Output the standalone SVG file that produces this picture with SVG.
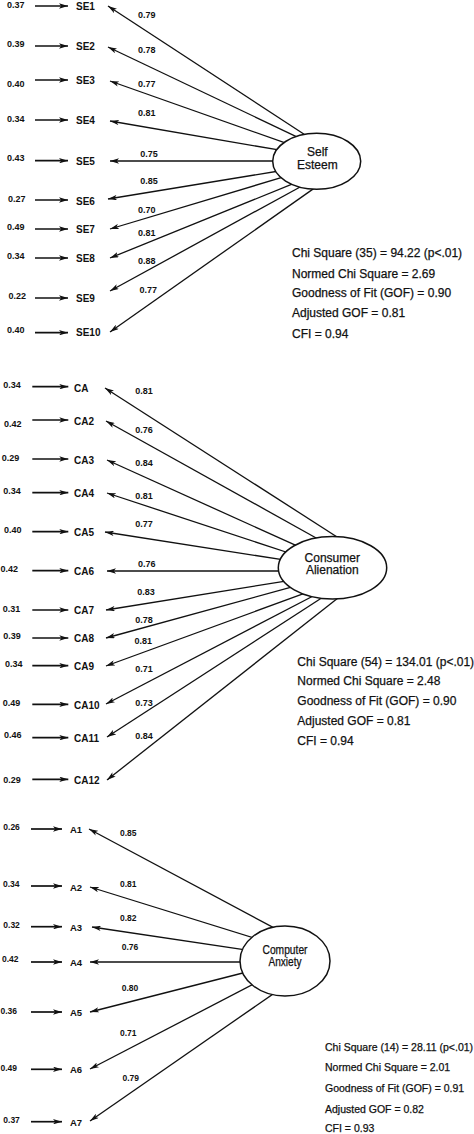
<svg xmlns="http://www.w3.org/2000/svg" width="474" height="1134" viewBox="0 0 474 1134">
<style>
text{font-family:"Liberation Sans",Arial,sans-serif;fill:#111}
.lab{font-size:10px;font-weight:bold}
.num{font-size:9px;font-weight:bold}
.ld{font-size:9px;font-weight:bold;text-anchor:middle}
.labs{font-size:9.5px;font-weight:bold}
.nums{font-size:8.5px;font-weight:bold}
.lds{font-size:8.5px;font-weight:bold;text-anchor:middle}
.lv{font-size:12px;text-anchor:middle;stroke:#111;stroke-width:0.25}
.fit{font-size:12px;stroke:#111;stroke-width:0.25}
.fits{font-size:10.5px;stroke:#111;stroke-width:0.25}
.conn line{stroke:#111;stroke-width:1.3;fill:none;marker-end:url(#ah)}
.conn line.e{stroke-width:1.7}
ellipse{fill:#fff;stroke:#111;stroke-width:1.5}
</style>
<defs>
<marker id="ah" viewBox="0 0 10 6" markerWidth="9" markerHeight="5.4" refX="10" refY="3" orient="auto" markerUnits="userSpaceOnUse"><path d="M0,0 L10,3 L0,6 L2.5,3 Z" fill="#111"/></marker>
</defs>

<g id="connectors" class="conn">
<!-- Self Esteem error arrows -->
<line class="e" x1="35" y1="6" x2="68" y2="6"/>
<line class="e" x1="35" y1="46" x2="68" y2="46"/>
<line class="e" x1="35" y1="80" x2="68" y2="80"/>
<line class="e" x1="35" y1="120" x2="68" y2="120"/>
<line class="e" x1="35" y1="160.7" x2="68" y2="160.7"/>
<line class="e" x1="35" y1="200" x2="68" y2="200"/>
<line class="e" x1="35" y1="229" x2="68" y2="229"/>
<line class="e" x1="35" y1="258" x2="68" y2="258"/>
<line class="e" x1="35" y1="298" x2="68" y2="298"/>
<line class="e" x1="35" y1="332.7" x2="68" y2="332.7"/>
<!-- Self Esteem loadings -->
<line x1="308.7" y1="137.3" x2="108" y2="6"/>
<line x1="300" y1="138.3" x2="108" y2="47"/>
<line x1="288.7" y1="144.2" x2="110" y2="81"/>
<line x1="280" y1="150.2" x2="110" y2="121"/>
<line x1="280" y1="161" x2="110" y2="161"/>
<line x1="282" y1="170.5" x2="108" y2="199"/>
<line x1="287" y1="175.9" x2="110" y2="229"/>
<line x1="297" y1="182.2" x2="110" y2="258"/>
<line x1="307" y1="183.2" x2="110" y2="291"/>
<line x1="320" y1="184.1" x2="110" y2="332"/>
<!-- Consumer Alienation error arrows -->
<line class="e" x1="32.3" y1="386.7" x2="68.3" y2="386.7"/>
<line class="e" x1="32.3" y1="420" x2="68.3" y2="420"/>
<line class="e" x1="32.3" y1="459" x2="68.3" y2="459"/>
<line class="e" x1="32.3" y1="492.7" x2="68.3" y2="492.7"/>
<line class="e" x1="32.3" y1="531.7" x2="68.3" y2="531.7"/>
<line class="e" x1="32.3" y1="570.7" x2="68.3" y2="570.7"/>
<line class="e" x1="32.3" y1="610" x2="68.3" y2="610"/>
<line class="e" x1="32.3" y1="638" x2="68.3" y2="638"/>
<line class="e" x1="32.3" y1="665.7" x2="68.3" y2="665.7"/>
<line class="e" x1="32.3" y1="704.3" x2="68.3" y2="704.3"/>
<line class="e" x1="32.3" y1="737.7" x2="68.3" y2="737.7"/>
<line class="e" x1="32.3" y1="779.3" x2="68.3" y2="779.3"/>
<!-- Consumer Alienation loadings -->
<line x1="343.7" y1="541.2" x2="105" y2="388"/>
<line x1="322" y1="541.2" x2="106" y2="421"/>
<line x1="302" y1="548.2" x2="107" y2="460"/>
<line x1="292" y1="554" x2="107" y2="493"/>
<line x1="287" y1="560.4" x2="105" y2="532"/>
<line x1="285.3" y1="571" x2="107" y2="571"/>
<line x1="288.7" y1="580.6" x2="106" y2="610"/>
<line x1="295" y1="586.1" x2="106" y2="638"/>
<line x1="307" y1="592.4" x2="106" y2="666"/>
<line x1="317" y1="594" x2="106" y2="704"/>
<line x1="327" y1="594.5" x2="107" y2="737"/>
<line x1="343.7" y1="593.5" x2="107" y2="780"/>
<!-- Computer Anxiety error arrows -->
<line class="e" x1="31" y1="829" x2="62" y2="829"/>
<line class="e" x1="31" y1="886" x2="62" y2="886"/>
<line class="e" x1="31" y1="926.7" x2="62" y2="926.7"/>
<line class="e" x1="31" y1="962" x2="62" y2="962"/>
<line class="e" x1="31" y1="1012" x2="62" y2="1012"/>
<line class="e" x1="31" y1="1069.3" x2="62" y2="1069.3"/>
<line class="e" x1="31" y1="1121.7" x2="62" y2="1121.7"/>
<!-- Computer Anxiety loadings -->
<line x1="278.7" y1="930.4" x2="89" y2="829"/>
<line x1="258.7" y1="939.5" x2="90" y2="887"/>
<line x1="248.7" y1="950.3" x2="92" y2="927"/>
<line x1="247" y1="962" x2="90" y2="962"/>
<line x1="248.7" y1="971.5" x2="90" y2="1012"/>
<line x1="258.7" y1="981.4" x2="90" y2="1069"/>
<line x1="278.7" y1="990.1" x2="90" y2="1121"/>
</g>

<g id="loadings-se">
<text class="ld" x="146.7" y="18.2">0.79</text>
<text class="ld" x="146.7" y="53.2">0.78</text>
<text class="ld" x="146.7" y="86.5">0.77</text>
<text class="ld" x="146.7" y="115.5">0.81</text>
<text class="ld" x="149" y="156.5">0.75</text>
<text class="ld" x="149" y="184.2">0.85</text>
<text class="ld" x="146.7" y="212.5">0.70</text>
<text class="ld" x="146.7" y="235.5">0.81</text>
<text class="ld" x="146.7" y="264.2">0.88</text>
<text class="ld" x="148.3" y="292.5">0.77</text>
</g>
<g id="loadings-ca">
<text class="ld" x="144" y="393.9">0.81</text>
<text class="ld" x="144" y="433.2">0.76</text>
<text class="ld" x="144" y="465.9">0.84</text>
<text class="ld" x="144" y="499.2">0.81</text>
<text class="ld" x="144" y="527.2">0.77</text>
<text class="ld" x="146.7" y="566.5">0.76</text>
<text class="ld" x="146" y="594.9">0.83</text>
<text class="ld" x="144" y="622.5">0.78</text>
<text class="ld" x="143.3" y="643.9">0.81</text>
<text class="ld" x="144" y="671.5">0.71</text>
<text class="ld" x="144" y="705.9">0.73</text>
<text class="ld" x="144" y="738.9">0.84</text>
</g>
<g id="loadings-a">
<text class="lds" x="128.3" y="836.3">0.85</text>
<text class="lds" x="128.3" y="887">0.81</text>
<text class="lds" x="128.3" y="921.3">0.82</text>
<text class="lds" x="130" y="949.7">0.76</text>
<text class="lds" x="130" y="990.7">0.80</text>
<text class="lds" x="128.3" y="1036.3">0.71</text>
<text class="lds" x="130.7" y="1081.3">0.79</text>
</g>

<!-- Self Esteem indicators -->
<g id="SE1"><text class="num" x="7" y="8.2">0.37</text><text class="lab" x="76" y="9.9">SE1</text></g>
<g id="SE2"><text class="num" x="7" y="46.5">0.39</text><text class="lab" x="76" y="50.3">SE2</text></g>
<g id="SE3"><text class="num" x="7" y="86.5">0.40</text><text class="lab" x="76" y="84.3">SE3</text></g>
<g id="SE4"><text class="num" x="7" y="121.5">0.34</text><text class="lab" x="76" y="124.3">SE4</text></g>
<g id="SE5"><text class="num" x="7" y="160.9">0.43</text><text class="lab" x="76" y="164.6">SE5</text></g>
<g id="SE6"><text class="num" x="8" y="202.2">0.27</text><text class="lab" x="76" y="204.6">SE6</text></g>
<g id="SE7"><text class="num" x="7" y="229.9">0.49</text><text class="lab" x="76" y="232.9">SE7</text></g>
<g id="SE8"><text class="num" x="7" y="259.2">0.34</text><text class="lab" x="76" y="261.9">SE8</text></g>
<g id="SE9"><text class="num" x="8.5" y="299.2">0.22</text><text class="lab" x="76" y="301.9">SE9</text></g>
<g id="SE10"><text class="num" x="7" y="333.2">0.40</text><text class="lab" x="76" y="336.3">SE10</text></g>

<g id="SelfEsteem">
<ellipse cx="316.7" cy="161.3" rx="44" ry="28"/>
<text class="lv" x="317.3" y="156">Self</text>
<text class="lv" x="317.3" y="168.6">Esteem</text>
</g>
<g id="fit-se">
<text class="fit" x="292" y="257">Chi Square (35) = 94.22 (p&lt;.01)</text>
<text class="fit" x="292" y="277.6">Normed Chi Square = 2.69</text>
<text class="fit" x="292" y="297">Goodness of Fit (GOF) = 0.90</text>
<text class="fit" x="292" y="317">Adjusted GOF = 0.81</text>
<text class="fit" x="292" y="337.6">CFI = 0.94</text>
</g>

<!-- Consumer Alienation indicators -->
<g id="CA1"><text class="num" x="3.3" y="388.2">0.34</text><text class="lab" x="74" y="391.9">CA</text></g>
<g id="CA2"><text class="num" x="4" y="426.5">0.42</text><text class="lab" x="74" y="424.6">CA2</text></g>
<g id="CA3"><text class="num" x="1.7" y="460.5">0.29</text><text class="lab" x="74" y="463.6">CA3</text></g>
<g id="CA4"><text class="num" x="3.3" y="493.9">0.34</text><text class="lab" x="74" y="496.9">CA4</text></g>
<g id="CA5"><text class="num" x="4" y="532.5">0.40</text><text class="lab" x="74" y="535.9">CA5</text></g>
<g id="CA6"><text class="num" x="0.5" y="571.5">0.42</text><text class="lab" x="74" y="574.6">CA6</text></g>
<g id="CA7"><text class="num" x="2.7" y="611.5">0.31</text><text class="lab" x="74" y="614.3">CA7</text></g>
<g id="CA8"><text class="num" x="3.3" y="639.2">0.39</text><text class="lab" x="74" y="641.9">CA8</text></g>
<g id="CA9"><text class="num" x="5" y="667.2">0.34</text><text class="lab" x="74" y="669.6">CA9</text></g>
<g id="CA10"><text class="num" x="2.7" y="705.9">0.49</text><text class="lab" x="74" y="708.6">CA10</text></g>
<g id="CA11"><text class="num" x="4" y="738.2">0.46</text><text class="lab" x="74" y="741.9">CA11</text></g>
<g id="CA12"><text class="num" x="3.3" y="783.2">0.29</text><text class="lab" x="74" y="783.6">CA12</text></g>

<g id="ConsumerAlienation">
<ellipse cx="332.5" cy="567.8" rx="54.2" ry="31.2"/>
<text class="lv" x="332.3" y="561.6">Consumer</text>
<text class="lv" x="332.3" y="574.3">Alienation</text>
</g>
<g id="fit-ca">
<text class="fit" x="297.3" y="666">Chi Square (54) = 134.01 (p&lt;.01)</text>
<text class="fit" x="297.3" y="684.5">Normed Chi Square = 2.48</text>
<text class="fit" x="297.3" y="704.5">Goodness of Fit (GOF) = 0.90</text>
<text class="fit" x="297.3" y="724.5">Adjusted GOF = 0.81</text>
<text class="fit" x="297.3" y="744.5">CFI = 0.94</text>
</g>

<!-- Computer Anxiety indicators -->
<g id="A1"><text class="nums" x="3.3" y="829.7">0.26</text><text class="labs" x="70" y="832.7">A1</text></g>
<g id="A2"><text class="nums" x="3" y="887.3">0.34</text><text class="labs" x="70" y="890.7">A2</text></g>
<g id="A3"><text class="nums" x="3.3" y="928">0.32</text><text class="labs" x="70" y="930.7">A3</text></g>
<g id="A4"><text class="nums" x="2" y="962">0.42</text><text class="labs" x="70" y="965.7">A4</text></g>
<g id="A5"><text class="nums" x="0.5" y="1014">0.36</text><text class="labs" x="70" y="1015.7">A5</text></g>
<g id="A6"><text class="nums" x="0.5" y="1071.3">0.49</text><text class="labs" x="70" y="1073.4">A6</text></g>
<g id="A7"><text class="nums" x="3.3" y="1123">0.37</text><text class="labs" x="70" y="1125.7">A7</text></g>

<g id="ComputerAnxiety">
<ellipse cx="285" cy="961" rx="45" ry="35"/>
<text class="lv" x="285" y="953.5" textLength="45" lengthAdjust="spacingAndGlyphs">Computer</text>
<text class="lv" x="285" y="966" textLength="33" lengthAdjust="spacingAndGlyphs">Anxiety</text>
</g>
<g id="fit-a">
<text class="fits" x="325" y="1051.3">Chi Square (14) = 28.11 (p&lt;.01)</text>
<text class="fits" x="325" y="1071.3">Normed Chi Square = 2.01</text>
<text class="fits" x="325" y="1092">Goodness of Fit (GOF) = 0.91</text>
<text class="fits" x="325" y="1112.5">Adjusted GOF = 0.82</text>
<text class="fits" x="325" y="1132">CFI = 0.93</text>
</g>
</svg>
